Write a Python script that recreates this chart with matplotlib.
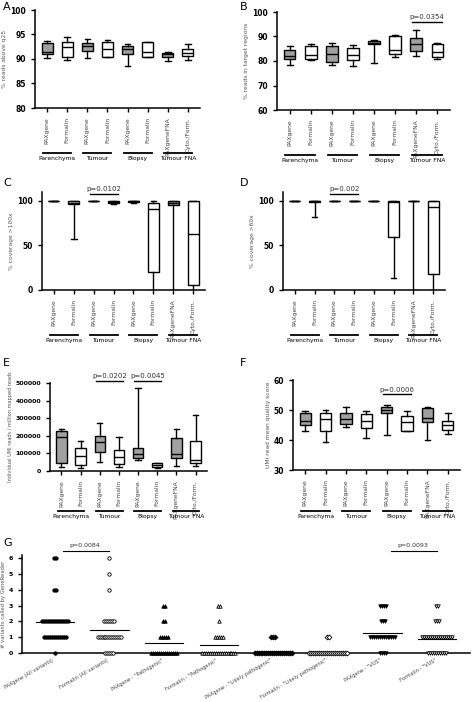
import matplotlib
matplotlib.use("Agg")
import matplotlib.pyplot as plt
from matplotlib.transforms import blended_transform_factory
import numpy as np

plt.rcParams['font.family'] = ['DejaVu Sans']
W, H = 474, 702

labels = ["PAXgene", "Formalin", "PAXgene", "Formalin", "PAXgene", "Formalin", "PAXgeneFNA", "Cyto./Form."]
groups = ["Parenchyma", "Tumour", "Biopsy", "Tumour FNA"]

# (whislo, q1, med, q3, whishi)
A_stats = [(90.2, 91, 91.5, 93.3, 93.6), (89.8, 90.5, 92.5, 93.4, 94.4), (90.2, 91.7, 92.6, 93.2, 94.1),
           (90.4, 90.5, 92, 93.5, 93.8), (88.6, 91, 92, 92.7, 93), (90.5, 90.5, 91.5, 93.5, 93.5),
           (89.6, 90.4, 91, 91.2, 91.5), (89.8, 90.6, 91.2, 92.1, 93)]
B_stats = [(78.5, 81, 82, 84.5, 86), (80.5, 81, 82.5, 86, 86.8), (78.2, 79.5, 83, 86, 87.5),
           (77.8, 80.5, 82.5, 85.5, 86.5), (79.2, 86.8, 87.5, 88, 88.5), (81.8, 83, 84.5, 90.3, 90.5),
           (82.2, 84, 87, 89.2, 92.7), (80.8, 81.5, 83.5, 87, 87.3)]
C_stats = [(100, 100, 100, 100, 100), (57, 96, 98, 100, 100), (100, 100, 100, 100, 100),
           (97, 97.5, 99, 100, 100), (98, 99, 99.5, 100, 100), (0, 20, 91, 98, 99.5),
           (0, 95, 98, 100, 100), (0, 6, 63, 100, 100)]
D_stats = [(100, 100, 100, 100, 100), (82, 99, 99.5, 100, 100), (100, 100, 100, 100, 100),
           (100, 100, 100, 100, 100), (100, 100, 100, 100, 100), (13, 60, 99, 100, 100),
           (0, 100, 100, 100, 100), (0, 18, 93, 100, 100)]
E_stats = [(20000, 45000, 195000, 228000, 238000), (15000, 35000, 88000, 128000, 170000),
           (50000, 108000, 165000, 200000, 275000), (25000, 38000, 82000, 122000, 195000),
           (65000, 72000, 98000, 128000, 470000), (18000, 22000, 35000, 45000, 48000),
           (28000, 75000, 95000, 190000, 240000), (30000, 48000, 65000, 168000, 318000)]
F_stats = [(43, 45, 46.5, 49, 49.5), (39.5, 43, 47, 49, 50), (44.5, 45.5, 47, 49, 51),
           (40.5, 44, 46.5, 48.5, 49.5), (41.5, 49, 50, 51, 51.5), (43, 43, 46, 48, 49.5),
           (40, 46, 47.5, 50.5, 51), (42, 43.5, 45, 46.5, 49)]

# Panel G: counts of samples per number of variants (value -> count)
G_labels = ['PAXgene (All variants)', 'Formalin (All variants)', 'PAXgene - "Pathogenic"',
            'Formalin - "Pathogenic"', 'PAXgene - "Likely pathogenic"', 'Formalin - "Likely pathogenic"',
            'PAXgene - "VUS"', 'Formalin - "VUS"']
G_counts = [{0: 1, 1: 12, 2: 14, 4: 2, 6: 2}, {0: 5, 1: 13, 2: 6, 4: 1, 5: 1, 6: 1},
            {0: 14, 1: 5, 2: 2, 3: 2}, {0: 18, 1: 5, 2: 1, 3: 2},
            {0: 20, 1: 3}, {0: 20, 1: 2},
            {0: 4, 1: 14, 2: 3, 3: 4}, {0: 10, 1: 16, 2: 3, 3: 2}]
G_markers = ['o', 'o', '^', '^', 'D', 'D', 'v', 'v']

fig = plt.figure(figsize=(W / 100, H / 100), dpi=100)

def ax_px(x0, y0, x1, y1):
    return fig.add_axes([x0 / W, 1 - y1 / H, (x1 - x0) / W, (y1 - y0) / H])

def style(ax, ysize=5.5):
    for s in ['top', 'right']:
        ax.spines[s].set_visible(False)
    ax.tick_params(axis='y', labelsize=ysize, width=1, length=3)
    ax.tick_params(axis='x', width=1, length=3)
    for s in ['left', 'bottom']:
        ax.spines[s].set_linewidth(1.1)
    for t in ax.get_yticklabels():
        t.set_fontweight('bold')

def box_panel(ax, stats, ylim, yticks, ylabel, pvals, fmt=None, ysize=5.5):
    bx = []
    for s in stats:
        bx.append(dict(whislo=s[0], q1=s[1], med=s[2], q3=s[3], whishi=s[4], fliers=[]))
    b = ax.bxp(bx, positions=range(1, 9), widths=0.55, patch_artist=True, showfliers=False,
               boxprops=dict(linewidth=1.0), medianprops=dict(color='black', linewidth=1.0),
               whiskerprops=dict(linewidth=1.0), capprops=dict(linewidth=1.0), capwidths=0.28)
    for i, p in enumerate(b['boxes']):
        p.set_facecolor('#a0a0a0' if i % 2 == 0 else 'white')
        p.set_edgecolor('black')
    ax.set_xlim(0.4, 8.6)
    ax.set_ylim(*ylim)
    ax.set_yticks(yticks)
    if fmt:
        ax.set_yticklabels([fmt(v) for v in yticks])
    ax.set_xticks(range(1, 9))
    ax.set_xticklabels(labels, rotation=90, fontsize=4.3, color='#444444')
    ax.set_ylabel(ylabel, fontsize=4.3, color='#555555', labelpad=2)
    style(ax, ysize)
    tr = blended_transform_factory(ax.transData, ax.transAxes)
    for (a, bb, txt, yf) in pvals:
        ax.plot([a - 0.2, bb + 0.2], [yf, yf], transform=tr, color='black', lw=1, clip_on=False)
        ax.text((a + bb) / 2, yf + 0.02, txt, transform=tr, ha='center', va='bottom', fontsize=5,
                color='#333333')
    for gi, g in enumerate(groups):
        x0 = 2 * gi + 1
        ax.plot([x0 - 0.2, x0 + 1.2], [-0.46, -0.46], transform=tr, color='black', lw=1.3, clip_on=False)
        ax.text(x0 + 0.5, -0.49, g, transform=tr, ha='center', va='top', fontsize=4.3)

axA = ax_px(35, 10, 200, 108)
box_panel(axA, A_stats, (80, 100), [80, 85, 90, 95, 100], '% reads above q25', [])
axB = ax_px(277, 12, 450, 110)
box_panel(axB, B_stats, (60, 100), [60, 70, 80, 90, 100], '% reads in target regions',
          [(7, 8, 'p=0.0354', 0.9)])
axC = ax_px(42, 192, 205, 290)
box_panel(axC, C_stats, (0, 110), [0, 50, 100], '% coverage >100x', [(3, 4, 'p=0.0102', 0.98)])
axD = ax_px(283, 192, 445, 290)
box_panel(axD, D_stats, (0, 110), [0, 50, 100], '% coverage >60x', [(3, 4, 'p=0.002', 0.98)])
axE = ax_px(50, 383, 207, 471)
box_panel(axE, E_stats, (0, 500000), [0, 100000, 200000, 300000, 400000, 500000],
          'Individual UMI reads / million mapped reads', [(3, 4, 'p=0.0202', 1.02), (5, 6, 'p=0.0045', 1.02)],
          fmt=lambda v: str(v), ysize=4.5)
axE.yaxis.label.set_fontsize(3.6)
axF = ax_px(293, 380, 460, 470)
box_panel(axF, F_stats, (30, 60), [30, 40, 50, 60], 'UMI read mean quality score',
          [(5, 6, 'p=0.0006', 0.84)])

# Panel G
axG = ax_px(22, 555, 470, 653)
sp = 0.036
for i, cnt in enumerate(G_counts):
    filled = (i % 2 == 0)
    allv = []
    for v, n in cnt.items():
        xs = i + (np.arange(n) - (n - 1) / 2) * sp
        axG.scatter(xs, [v] * n, marker=G_markers[i], s=6,
                    facecolor='black' if filled else 'white', edgecolor='black', linewidth=0.6,
                    clip_on=False, zorder=3)
        allv += [v] * n
    m = np.mean(allv)
    axG.plot([i - 0.35, i + 0.35], [m, m], color='black', lw=0.8)
axG.set_xlim(-0.6, 7.6)
axG.set_ylim(0, 6.2)
axG.set_yticks(range(7))
axG.set_xticks(range(8))
axG.set_xticklabels(G_labels, rotation=30, ha='right', fontsize=3.6, color='#444444')
axG.set_ylabel('# variants called by GeneReader', fontsize=3.8, color='#555555', labelpad=2)
style(axG, 4.5)
axG.tick_params(axis='x', length=0)
for (a, bb, txt) in [(0, 1, 'p=0.0084'), (6, 7, 'p=0.0093')]:
    axG.plot([a + 0.15, bb], [6.45, 6.45], color='black', lw=0.8, clip_on=False)
    axG.text((a + bb) / 2 + 0.05, 6.65, txt, ha='center', va='bottom', fontsize=4.5, color='#333333')

for lt, x, y in [('A', 3, 2), ('B', 240, 2), ('C', 3, 178), ('D', 240, 178), ('E', 3, 358),
                 ('F', 240, 358), ('G', 3, 538)]:
    fig.text(x / W, 1 - y / H, lt, fontsize=8, va='top')

fig.savefig('out.png', dpi=100, facecolor='white')
